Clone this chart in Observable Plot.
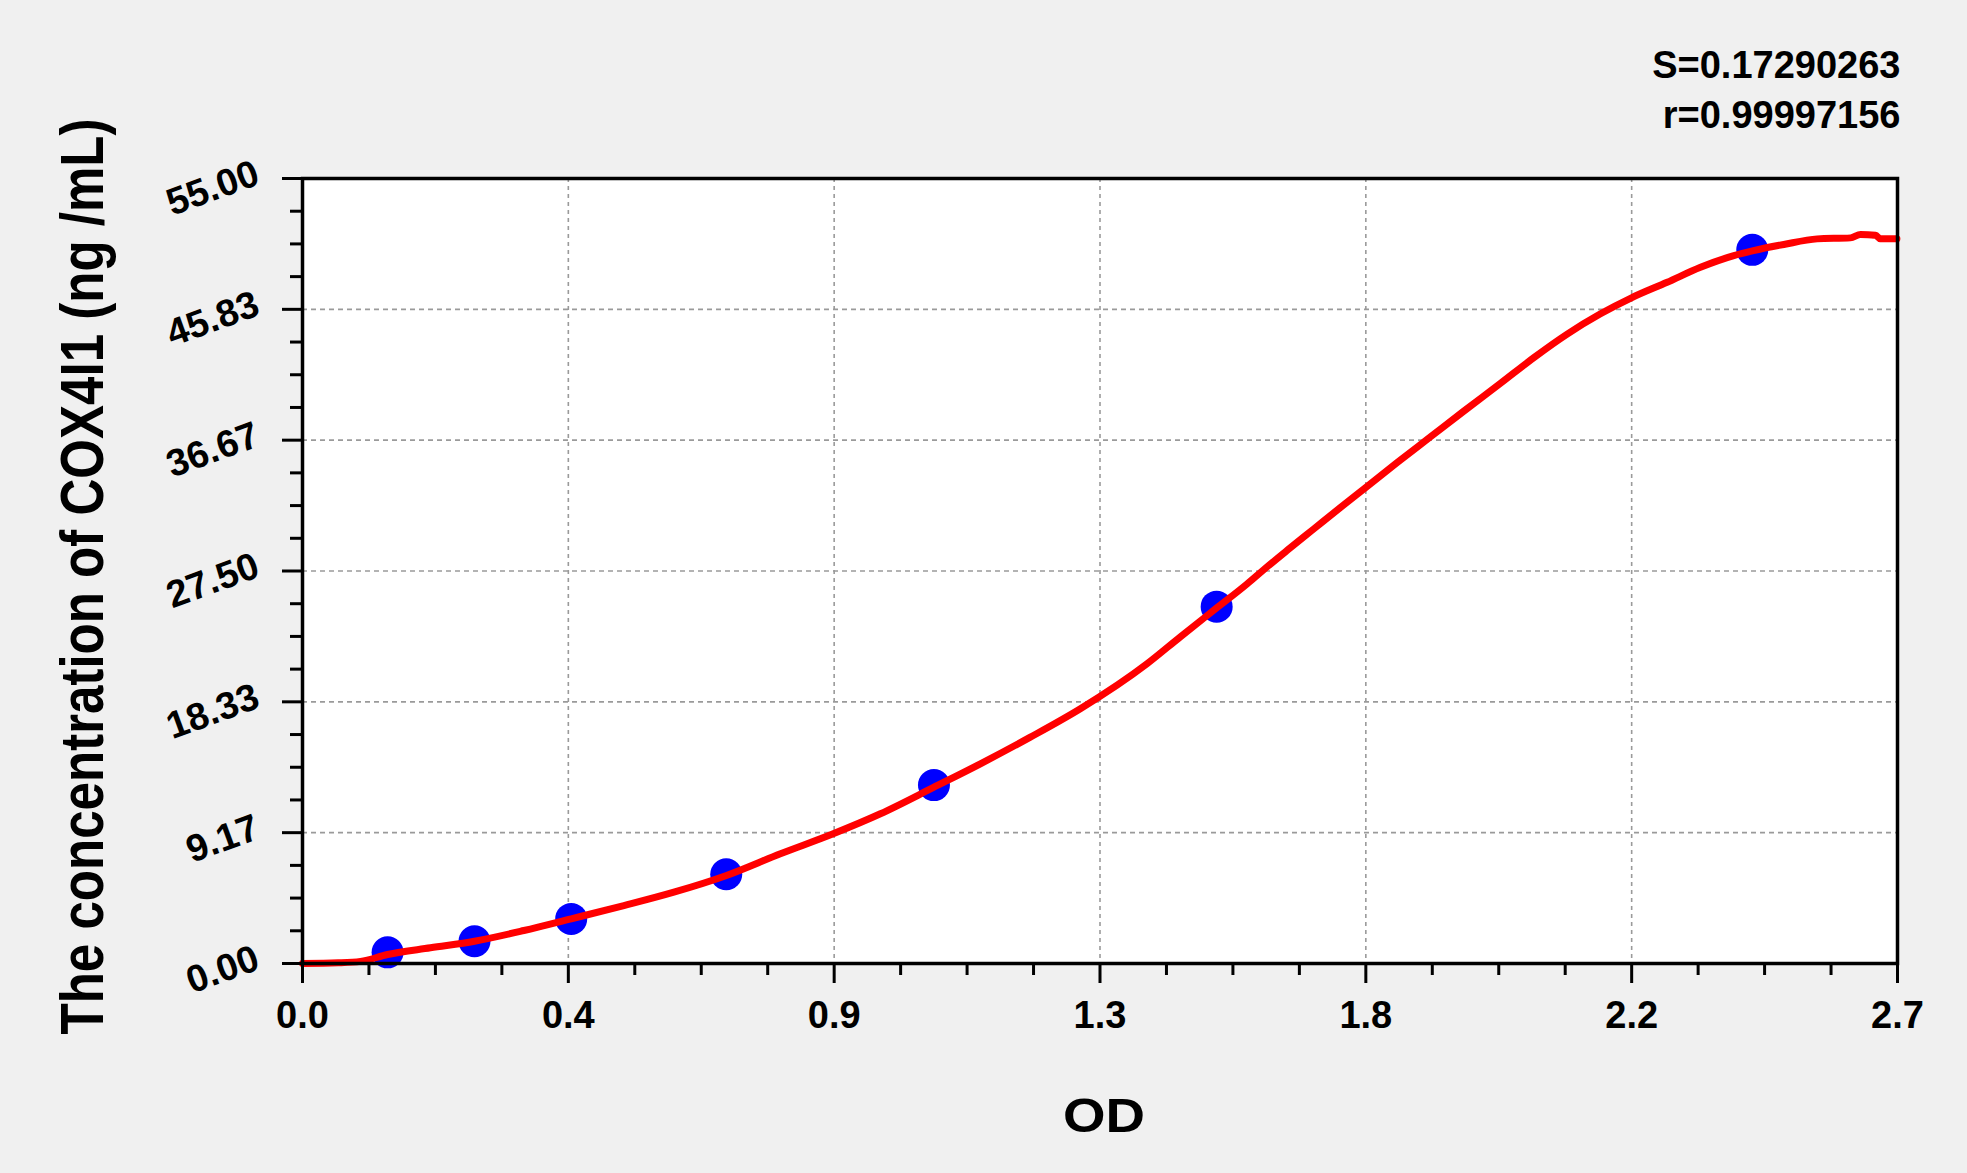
<!DOCTYPE html>
<html>
<head>
<meta charset="utf-8">
<script src="https://cdn.jsdelivr.net/npm/d3@7"></script>
<script src="https://cdn.jsdelivr.net/npm/@observablehq/plot@0.6"></script>
<style>
  html, body { margin: 0; padding: 0; background: #f0f0f0; }
  #chart svg { display: block; }
</style>
</head>
<body>
<div id="chart"></div>
<script>
// ---- data ----
const pointOD = [0.143, 0.289, 0.4515, 0.712, 1.061, 1.536, 2.436];
const pointConc = [0.78, 1.56, 3.125, 6.25, 12.5, 25, 50];

const curveOD = [0.000, 0.060, 0.0975, 0.143, 0.215, 0.289, 0.372, 0.4515, 0.540, 0.624, 0.7124,
  0.803, 0.8917, 0.971, 1.061, 1.139, 1.223, 1.307, 1.419, 1.4753, 1.5358, 1.5873, 1.6153,
  1.6546, 1.6993, 1.744, 1.785, 1.8394, 1.8954, 1.9513, 2.013, 2.069, 2.125, 2.181, 2.233,
  2.293, 2.349, 2.405, 2.438, 2.489, 2.545, 2.601, 2.618, 2.643, 2.651, 2.679];
const curveConc = [0.00, 0.05, 0.15, 0.63, 1.10, 1.56, 2.31, 3.13, 4.06, 5.00, 6.17,
  7.69, 9.09, 10.49, 12.35, 13.99, 15.86, 17.85, 21.00, 22.90, 24.90, 26.60, 27.60,
  28.95, 30.45, 31.95, 33.30, 35.10, 36.90, 38.70, 40.65, 42.45, 44.10, 45.52, 46.64,
  47.73, 48.78, 49.60, 49.95, 50.38, 50.77, 50.84, 51.08, 51.03, 50.77, 50.77];

const xTickLabels = ["0.0", "0.4", "0.9", "1.3", "1.8", "2.2", "2.7"];
const yTickLabels = ["0.00", "9.17", "18.33", "27.50", "36.67", "45.83", "55.00"];
const xMax = 2.68;
const yMax = 55;

const statS = "S=0.17290263";
const statR = "r=0.99997156";
const xTitle = "OD";
const yTitle = "The concentration of COX4I1 (ng /mL)";

// ---- derived tables ----
const points = pointOD.map((x, i) => ({x, y: pointConc[i]}));
const curve = curveOD.map((x, i) => ({x, y: curveConc[i]}));
const xMajor = xTickLabels.map((_, i) => i * xMax / (xTickLabels.length - 1));
const yMajor = yTickLabels.map((_, i) => i * yMax / (yTickLabels.length - 1));
const xMinor = d3.range(25).map(i => i * xMax / 24).filter((_, i) => i % 4 !== 0);
const yMinor = d3.range(25).map(i => i * yMax / 24).filter((_, i) => i % 4 !== 0);

const font = "'Liberation Sans', Arial, Helvetica, sans-serif";

const chart = Plot.plot({
  width: 1967,
  height: 1173,
  marginLeft: 302,
  marginRight: 70,
  marginTop: 178,
  marginBottom: 210,
  style: {background: "#f0f0f0", fontFamily: font, fontSize: "38px", fontWeight: "bold", color: "black", overflow: "visible"},
  x: {domain: [0, xMax]},
  y: {domain: [0, yMax]},
  marks: [
    Plot.frame({fill: "white", stroke: "none"}),
    Plot.gridX(xMajor.slice(1, -1), {stroke: "#9a9a9a", strokeOpacity: 1, strokeWidth: 1.6, strokeDasharray: "4,4"}),
    Plot.gridY(yMajor.slice(1, -1), {stroke: "#9a9a9a", strokeOpacity: 1, strokeWidth: 1.6, strokeDasharray: "5,4"}),
    Plot.dot(points, {x: "x", y: "y", r: 16, fill: "#0000ff", stroke: "none"}),
    Plot.line(curve, {x: "x", y: "y", stroke: "#ff0000", strokeWidth: 7, curve: "monotone-x"}),
    Plot.frame({stroke: "black", strokeWidth: 3.5}),
    // ticks
    Plot.axisX(xMajor, {anchor: "bottom", tickSize: 20, strokeWidth: 3, fill: "none", label: null}),
    Plot.axisX(xMinor, {anchor: "bottom", tickSize: 12, strokeWidth: 3, fill: "none", label: null}),
    Plot.axisY(yMajor, {anchor: "left", tickSize: 20, strokeWidth: 3, fill: "none", label: null}),
    Plot.axisY(yMinor, {anchor: "left", tickSize: 12, strokeWidth: 3, fill: "none", label: null}),
    // tick labels
    Plot.text(xMajor, {x: d => d, text: (d, i) => xTickLabels[i], frameAnchor: "bottom", dy: 64, lineAnchor: "bottom", fontSize: 38, fontWeight: "bold"}),
    Plot.text(yMajor, {y: d => d, text: (d, i) => yTickLabels[i], frameAnchor: "left", dx: -41, dy: 5, rotate: -20, textAnchor: "end", lineAnchor: "bottom", fontSize: 38, fontWeight: "bold"}),
    // titles and statistics
    Plot.text([xTitle], {text: d => d, frameAnchor: "bottom", dx: 4, dy: 168, lineAnchor: "bottom", fontSize: 48, fontWeight: "bold"}),
    Plot.text([yTitle], {text: d => d, frameAnchor: "left", dx: -200, dy: 5.5, rotate: -90, textAnchor: "middle", lineAnchor: "bottom", fontSize: 62, fontWeight: "bold"}),
    Plot.text([statS], {text: d => d, frameAnchor: "top-right", dx: 3, dy: -101, textAnchor: "end", lineAnchor: "bottom", fontSize: 38, fontWeight: "bold"}),
    Plot.text([statR], {text: d => d, frameAnchor: "top-right", dx: 3, dy: -51, textAnchor: "end", lineAnchor: "bottom", fontSize: 38, fontWeight: "bold"})
  ]
});

document.getElementById("chart").appendChild(chart);

// condensed look of the titles in the reference
const lengths = {[yTitle]: 916, [xTitle]: 82};
chart.querySelectorAll("text").forEach(t => {
  const L = lengths[t.textContent];
  if (L) {
    t.setAttribute("textLength", L);
    t.setAttribute("lengthAdjust", "spacingAndGlyphs");
  }
});
</script>
</body>
</html>
